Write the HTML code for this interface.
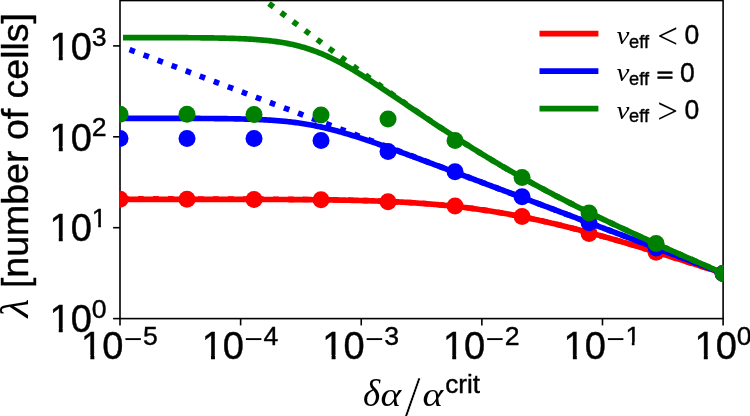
<!DOCTYPE html>
<html><head><meta charset="utf-8"><title>plot</title>
<style>
html,body{margin:0;padding:0;background:#fff;}
svg{display:block;}
text{font-family:"Liberation Sans",sans-serif;fill:#000;stroke:#000;stroke-width:0.4px;}
text.mi{font-family:"Liberation Serif","DejaVu Serif",serif;font-style:italic;stroke-width:0;}
text.sl{font-family:"Liberation Serif","DejaVu Serif",serif;stroke:#fff;stroke-width:0.7px;}
text.mn{stroke-width:0;}
text.eq{stroke-width:1.1px;}
text.ms{font-family:"Liberation Serif","DejaVu Serif",serif;stroke-width:0;}
</style></head><body>
<svg width="750" height="416" viewBox="0 0 750 416">
<rect x="0" y="0" width="750" height="416" fill="#fff"/>
<defs><clipPath id="c0"><path d="M76.10,314.40 H131.10 V365.40 H102.00 V355.00 H94.30 V365.40 H90.40 V355.00 H76.10 Z"/></clipPath><clipPath id="c1"><path d="M196.72,314.40 H251.72 V365.40 H222.62 V355.00 H214.92 V365.40 H211.02 V355.00 H196.72 Z"/></clipPath><clipPath id="c2"><path d="M317.34,314.40 H372.34 V365.40 H343.24 V355.00 H335.54 V365.40 H331.64 V355.00 H317.34 Z"/></clipPath><clipPath id="c3"><path d="M437.96,314.40 H492.96 V365.40 H463.86 V355.00 H456.16 V365.40 H452.26 V355.00 H437.96 Z"/></clipPath><clipPath id="c4"><path d="M558.58,314.40 H613.58 V365.40 H584.48 V355.00 H576.78 V365.40 H572.88 V355.00 H558.58 Z"/></clipPath><clipPath id="c5"><path d="M622.38,315.30 H645.38 V342.00 H634.48 V349.30 H631.83 V342.00 H622.38 Z"/></clipPath><clipPath id="c6"><path d="M689.55,314.40 H744.55 V365.40 H715.45 V355.00 H707.75 V365.40 H703.85 V355.00 H689.55 Z"/></clipPath><clipPath id="c7"><path d="M44.50,287.30 H99.50 V338.30 H70.40 V327.90 H62.70 V338.30 H58.80 V327.90 H44.50 Z"/></clipPath><clipPath id="c8"><path d="M44.50,196.40 H99.50 V247.40 H70.40 V237.00 H62.70 V247.40 H58.80 V237.00 H44.50 Z"/></clipPath><clipPath id="c9"><path d="M88.80,197.30 H111.80 V224.00 H100.90 V231.30 H98.25 V224.00 H88.80 Z"/></clipPath><clipPath id="c10"><path d="M44.50,105.50 H99.50 V156.50 H70.40 V146.10 H62.70 V156.50 H58.80 V146.10 H44.50 Z"/></clipPath><clipPath id="c11"><path d="M44.50,14.60 H99.50 V65.60 H70.40 V55.20 H62.70 V65.60 H58.80 V55.20 H44.50 Z"/></clipPath><clipPath id="ax"><rect x="119.3" y="0" width="604.30" height="319.3"/></clipPath></defs>
<g stroke="#000" stroke-width="1.6" fill="none">
<rect x="120.0" y="0.55" width="603.10" height="318.05"/>
<line x1="120.00" y1="318.60" x2="120.00" y2="325.40"/>
<line x1="240.62" y1="318.60" x2="240.62" y2="325.40"/>
<line x1="361.24" y1="318.60" x2="361.24" y2="325.40"/>
<line x1="481.86" y1="318.60" x2="481.86" y2="325.40"/>
<line x1="602.48" y1="318.60" x2="602.48" y2="325.40"/>
<line x1="723.10" y1="318.60" x2="723.10" y2="325.40"/>
<line x1="113.10" y1="318.60" x2="120.00" y2="318.60"/>
<line x1="113.10" y1="227.70" x2="120.00" y2="227.70"/>
<line x1="113.10" y1="136.80" x2="120.00" y2="136.80"/>
<line x1="113.10" y1="45.90" x2="120.00" y2="45.90"/>
</g>
<g clip-path="url(#ax)">
<path d="M123.00,198.92 L124.50,198.93 L126.01,198.93 L127.51,198.93 L129.02,198.93 L130.52,198.93 L132.02,198.93 L133.53,198.93 L135.03,198.93 L136.54,198.93 L138.04,198.93 L139.54,198.93 L141.05,198.93 L142.55,198.93 L144.06,198.93 L145.56,198.93 L147.06,198.93 L148.57,198.94 L150.07,198.94 L151.58,198.94 L153.08,198.94 L154.58,198.94 L156.09,198.94 L157.59,198.94 L159.10,198.94 L160.60,198.94 L162.10,198.94 L163.61,198.95 L165.11,198.95 L166.62,198.95 L168.12,198.95 L169.62,198.95 L171.13,198.95 L172.63,198.95 L174.14,198.95 L175.64,198.96 L177.14,198.96 L178.65,198.96 L180.15,198.96 L181.66,198.96 L183.16,198.96 L184.66,198.96 L186.17,198.97 L187.67,198.97 L189.18,198.97 L190.68,198.97 L192.18,198.97 L193.69,198.97 L195.19,198.98 L196.70,198.98 L198.20,198.98 L199.70,198.98 L201.21,198.99 L202.71,198.99 L204.22,198.99 L205.72,198.99 L207.22,198.99 L208.73,199.00 L210.23,199.00 L211.74,199.00 L213.24,199.01 L214.74,199.01 L216.25,199.01 L217.75,199.01 L219.26,199.02 L220.76,199.02 L222.26,199.02 L223.77,199.03 L225.27,199.03 L226.78,199.03 L228.28,199.04 L229.78,199.04 L231.29,199.05 L232.79,199.05 L234.30,199.05 L235.80,199.06 L237.30,199.06 L238.81,199.07 L240.31,199.07 L241.82,199.08 L243.32,199.08 L244.82,199.09 L246.33,199.09 L247.83,199.10 L249.34,199.10 L250.84,199.11 L252.34,199.11 L253.85,199.12 L255.35,199.13 L256.86,199.13 L258.36,199.14 L259.86,199.15 L261.37,199.15 L262.87,199.16 L264.38,199.17 L265.88,199.17 L267.38,199.18 L268.89,199.19 L270.39,199.20 L271.90,199.21 L273.40,199.21 L274.91,199.22 L276.41,199.23 L277.91,199.24 L279.42,199.25 L280.92,199.26 L282.43,199.27 L283.93,199.28 L285.43,199.29 L286.94,199.30 L288.44,199.32 L289.95,199.33 L291.45,199.34 L292.95,199.35 L294.46,199.36 L295.96,199.38 L297.47,199.39 L298.97,199.41 L300.47,199.42 L301.98,199.43 L303.48,199.45 L304.99,199.46 L306.49,199.48 L307.99,199.50 L309.50,199.51 L311.00,199.53 L312.51,199.55 L314.01,199.57 L315.51,199.59 L317.02,199.60 L318.52,199.62 L320.03,199.64 L321.53,199.67 L323.03,199.69 L324.54,199.71 L326.04,199.73 L327.55,199.75 L329.05,199.78 L330.55,199.80 L332.06,199.83 L333.56,199.85 L335.07,199.88 L336.57,199.91 L338.07,199.94 L339.58,199.97 L341.08,199.99 L342.59,200.03 L344.09,200.06 L345.59,200.09 L347.10,200.12 L348.60,200.15 L350.11,200.19 L351.61,200.23 L353.11,200.26 L354.62,200.30 L356.12,200.34 L357.63,200.38 L359.13,200.42 L360.63,200.46 L362.14,200.50 L363.64,200.54 L365.15,200.59 L366.65,200.64 L368.15,200.68 L369.66,200.73 L371.16,200.78 L372.67,200.83 L374.17,200.88 L375.67,200.94 L377.18,200.99 L378.68,201.05 L380.19,201.11 L381.69,201.16 L383.19,201.22 L384.70,201.29 L386.20,201.35 L387.71,201.41 L389.21,201.48 L390.71,201.55 L392.22,201.62 L393.72,201.69 L395.23,201.76 L396.73,201.84 L398.23,201.91 L399.74,201.99 L401.24,202.07 L402.75,202.15 L404.25,202.24 L405.75,202.32 L407.26,202.41 L408.76,202.50 L410.27,202.59 L411.77,202.69 L413.27,202.78 L414.78,202.88 L416.28,202.98 L417.79,203.08 L419.29,203.18 L420.79,203.29 L422.30,203.40 L423.80,203.51 L425.31,203.62 L426.81,203.74 L428.31,203.86 L429.82,203.98 L431.32,204.10 L432.83,204.23 L434.33,204.35 L435.83,204.48 L437.34,204.62 L438.84,204.75 L440.35,204.89 L441.85,205.03 L443.35,205.17 L444.86,205.32 L446.36,205.47 L447.87,205.62 L449.37,205.77 L450.87,205.93 L452.38,206.09 L453.88,206.25 L455.39,206.42 L456.89,206.59 L458.39,206.76 L459.90,206.93 L461.40,207.11 L462.91,207.29 L464.41,207.47 L465.91,207.65 L467.42,207.84 L468.92,208.03 L470.43,208.23 L471.93,208.43 L473.43,208.63 L474.94,208.83 L476.44,209.04 L477.95,209.25 L479.45,209.46 L480.95,209.67 L482.46,209.89 L483.96,210.11 L485.47,210.34 L486.97,210.57 L488.47,210.80 L489.98,211.03 L491.48,211.27 L492.99,211.51 L494.49,211.75 L495.99,212.00 L497.50,212.25 L499.00,212.50 L500.51,212.76 L502.01,213.01 L503.51,213.27 L505.02,213.54 L506.52,213.81 L508.03,214.08 L509.53,214.35 L511.03,214.63 L512.54,214.91 L514.04,215.19 L515.55,215.47 L517.05,215.76 L518.55,216.05 L520.06,216.35 L521.56,216.64 L523.07,216.94 L524.57,217.25 L526.07,217.55 L527.58,217.86 L529.08,218.17 L530.59,218.48 L532.09,218.80 L533.59,219.12 L535.10,219.44 L536.60,219.77 L538.11,220.09 L539.61,220.42 L541.11,220.76 L542.62,221.09 L544.12,221.43 L545.63,221.77 L547.13,222.11 L548.63,222.46 L550.14,222.80 L551.64,223.15 L553.15,223.51 L554.65,223.86 L556.15,224.22 L557.66,224.58 L559.16,224.94 L560.67,225.31 L562.17,225.67 L563.67,226.04 L565.18,226.42 L566.68,226.79 L568.19,227.17 L569.69,227.54 L571.19,227.92 L572.70,228.31 L574.20,228.69 L575.71,229.08 L577.21,229.47 L578.72,229.86 L580.22,230.25 L581.72,230.64 L583.23,231.04 L584.73,231.44 L586.24,231.84 L587.74,232.24 L589.24,232.65 L590.75,233.05 L592.25,233.46 L593.76,233.87 L595.26,234.28 L596.76,234.69 L598.27,235.11 L599.77,235.53 L601.28,235.94 L602.78,236.36 L604.28,236.78 L605.79,237.21 L607.29,237.63 L608.80,238.06 L610.30,238.49 L611.80,238.91 L613.31,239.34 L614.81,239.78 L616.32,240.21 L617.82,240.64 L619.32,241.08 L620.83,241.52 L622.33,241.96 L623.84,242.40 L625.34,242.84 L626.84,243.28 L628.35,243.72 L629.85,244.17 L631.36,244.61 L632.86,245.06 L634.36,245.51 L635.87,245.96 L637.37,246.41 L638.88,246.86 L640.38,247.31 L641.88,247.77 L643.39,248.22 L644.89,248.68 L646.40,249.14 L647.90,249.59 L649.40,250.05 L650.91,250.51 L652.41,250.97 L653.92,251.43 L655.42,251.89 L656.92,252.36 L658.43,252.82 L659.93,253.29 L661.44,253.75 L662.94,254.22 L664.44,254.68 L665.95,255.15 L667.45,255.62 L668.96,256.09 L670.46,256.56 L671.96,257.03 L673.47,257.50 L674.97,257.97 L676.48,258.44 L677.98,258.91 L679.48,259.39 L680.99,259.86 L682.49,260.33 L684.00,260.81 L685.50,261.28 L687.00,261.76 L688.51,262.23 L690.01,262.71 L691.52,263.19 L693.02,263.66 L694.52,264.14 L696.03,264.62 L697.53,265.10 L699.04,265.57 L700.54,266.05 L702.04,266.53 L703.55,267.01 L705.05,267.49 L706.56,267.97 L708.06,268.45 L709.56,268.93 L711.07,269.41 L712.57,269.89 L714.08,270.37 L715.58,270.85 L717.08,271.33 L718.59,271.81 L720.09,272.29 L721.60,272.77 L723.10,273.25" fill="none" stroke="#ff0000" stroke-width="5.66" stroke-dasharray="5.66 9.34" stroke-dashoffset="0.00"/>
<path d="M123.00,199.40 L124.50,199.40 L126.01,199.40 L127.51,199.40 L129.02,199.40 L130.52,199.40 L132.02,199.40 L133.53,199.40 L135.03,199.40 L136.54,199.40 L138.04,199.40 L139.54,199.40 L141.05,199.40 L142.55,199.40 L144.06,199.40 L145.56,199.40 L147.06,199.40 L148.57,199.40 L150.07,199.40 L151.58,199.40 L153.08,199.40 L154.58,199.40 L156.09,199.40 L157.59,199.40 L159.10,199.40 L160.60,199.40 L162.10,199.40 L163.61,199.40 L165.11,199.40 L166.62,199.40 L168.12,199.40 L169.62,199.40 L171.13,199.40 L172.63,199.40 L174.14,199.40 L175.64,199.40 L177.14,199.40 L178.65,199.40 L180.15,199.40 L181.66,199.40 L183.16,199.40 L184.66,199.40 L186.17,199.40 L187.67,199.40 L189.18,199.40 L190.68,199.40 L192.18,199.40 L193.69,199.40 L195.19,199.40 L196.70,199.40 L198.20,199.40 L199.70,199.40 L201.21,199.40 L202.71,199.40 L204.22,199.40 L205.72,199.40 L207.22,199.41 L208.73,199.41 L210.23,199.41 L211.74,199.41 L213.24,199.41 L214.74,199.41 L216.25,199.41 L217.75,199.41 L219.26,199.41 L220.76,199.41 L222.26,199.41 L223.77,199.41 L225.27,199.41 L226.78,199.41 L228.28,199.41 L229.78,199.42 L231.29,199.42 L232.79,199.42 L234.30,199.42 L235.80,199.42 L237.30,199.42 L238.81,199.42 L240.31,199.42 L241.82,199.42 L243.32,199.43 L244.82,199.43 L246.33,199.43 L247.83,199.43 L249.34,199.43 L250.84,199.44 L252.34,199.44 L253.85,199.44 L255.35,199.44 L256.86,199.44 L258.36,199.45 L259.86,199.45 L261.37,199.45 L262.87,199.46 L264.38,199.46 L265.88,199.46 L267.38,199.47 L268.89,199.47 L270.39,199.47 L271.90,199.48 L273.40,199.48 L274.91,199.49 L276.41,199.49 L277.91,199.50 L279.42,199.50 L280.92,199.51 L282.43,199.51 L283.93,199.52 L285.43,199.53 L286.94,199.53 L288.44,199.54 L289.95,199.55 L291.45,199.56 L292.95,199.56 L294.46,199.57 L295.96,199.58 L297.47,199.59 L298.97,199.60 L300.47,199.61 L301.98,199.62 L303.48,199.63 L304.99,199.64 L306.49,199.66 L307.99,199.67 L309.50,199.68 L311.00,199.69 L312.51,199.71 L314.01,199.72 L315.51,199.74 L317.02,199.75 L318.52,199.77 L320.03,199.79 L321.53,199.80 L323.03,199.82 L324.54,199.84 L326.04,199.86 L327.55,199.88 L329.05,199.90 L330.55,199.92 L332.06,199.94 L333.56,199.97 L335.07,199.99 L336.57,200.01 L338.07,200.04 L339.58,200.06 L341.08,200.09 L342.59,200.12 L344.09,200.15 L345.59,200.18 L347.10,200.21 L348.60,200.24 L350.11,200.27 L351.61,200.30 L353.11,200.34 L354.62,200.37 L356.12,200.41 L357.63,200.45 L359.13,200.49 L360.63,200.52 L362.14,200.57 L363.64,200.61 L365.15,200.65 L366.65,200.69 L368.15,200.74 L369.66,200.79 L371.16,200.83 L372.67,200.88 L374.17,200.93 L375.67,200.98 L377.18,201.04 L378.68,201.09 L380.19,201.15 L381.69,201.21 L383.19,201.27 L384.70,201.33 L386.20,201.39 L387.71,201.45 L389.21,201.52 L390.71,201.58 L392.22,201.65 L393.72,201.72 L395.23,201.79 L396.73,201.87 L398.23,201.94 L399.74,202.02 L401.24,202.10 L402.75,202.18 L404.25,202.26 L405.75,202.35 L407.26,202.43 L408.76,202.52 L410.27,202.61 L411.77,202.71 L413.27,202.80 L414.78,202.90 L416.28,203.00 L417.79,203.10 L419.29,203.20 L420.79,203.31 L422.30,203.42 L423.80,203.53 L425.31,203.64 L426.81,203.75 L428.31,203.87 L429.82,203.99 L431.32,204.11 L432.83,204.24 L434.33,204.37 L435.83,204.50 L437.34,204.63 L438.84,204.76 L440.35,204.90 L441.85,205.04 L443.35,205.18 L444.86,205.33 L446.36,205.48 L447.87,205.63 L449.37,205.78 L450.87,205.94 L452.38,206.10 L453.88,206.26 L455.39,206.42 L456.89,206.59 L458.39,206.76 L459.90,206.94 L461.40,207.11 L462.91,207.29 L464.41,207.47 L465.91,207.66 L467.42,207.85 L468.92,208.04 L470.43,208.23 L471.93,208.43 L473.43,208.63 L474.94,208.83 L476.44,209.04 L477.95,209.25 L479.45,209.46 L480.95,209.68 L482.46,209.90 L483.96,210.12 L485.47,210.34 L486.97,210.57 L488.47,210.80 L489.98,211.03 L491.48,211.27 L492.99,211.51 L494.49,211.75 L495.99,212.00 L497.50,212.25 L499.00,212.50 L500.51,212.76 L502.01,213.02 L503.51,213.28 L505.02,213.54 L506.52,213.81 L508.03,214.08 L509.53,214.35 L511.03,214.63 L512.54,214.91 L514.04,215.19 L515.55,215.47 L517.05,215.76 L518.55,216.05 L520.06,216.35 L521.56,216.64 L523.07,216.94 L524.57,217.25 L526.07,217.55 L527.58,217.86 L529.08,218.17 L530.59,218.48 L532.09,218.80 L533.59,219.12 L535.10,219.44 L536.60,219.77 L538.11,220.09 L539.61,220.42 L541.11,220.76 L542.62,221.09 L544.12,221.43 L545.63,221.77 L547.13,222.11 L548.63,222.46 L550.14,222.81 L551.64,223.16 L553.15,223.51 L554.65,223.86 L556.15,224.22 L557.66,224.58 L559.16,224.94 L560.67,225.31 L562.17,225.68 L563.67,226.04 L565.18,226.42 L566.68,226.79 L568.19,227.17 L569.69,227.54 L571.19,227.92 L572.70,228.31 L574.20,228.69 L575.71,229.08 L577.21,229.47 L578.72,229.86 L580.22,230.25 L581.72,230.64 L583.23,231.04 L584.73,231.44 L586.24,231.84 L587.74,232.24 L589.24,232.65 L590.75,233.05 L592.25,233.46 L593.76,233.87 L595.26,234.28 L596.76,234.69 L598.27,235.11 L599.77,235.53 L601.28,235.94 L602.78,236.36 L604.28,236.78 L605.79,237.21 L607.29,237.63 L608.80,238.06 L610.30,238.49 L611.80,238.91 L613.31,239.34 L614.81,239.78 L616.32,240.21 L617.82,240.64 L619.32,241.08 L620.83,241.52 L622.33,241.96 L623.84,242.40 L625.34,242.84 L626.84,243.28 L628.35,243.72 L629.85,244.17 L631.36,244.61 L632.86,245.06 L634.36,245.51 L635.87,245.96 L637.37,246.41 L638.88,246.86 L640.38,247.31 L641.88,247.77 L643.39,248.22 L644.89,248.68 L646.40,249.14 L647.90,249.59 L649.40,250.05 L650.91,250.51 L652.41,250.97 L653.92,251.43 L655.42,251.89 L656.92,252.36 L658.43,252.82 L659.93,253.29 L661.44,253.75 L662.94,254.22 L664.44,254.68 L665.95,255.15 L667.45,255.62 L668.96,256.09 L670.46,256.56 L671.96,257.03 L673.47,257.50 L674.97,257.97 L676.48,258.44 L677.98,258.91 L679.48,259.39 L680.99,259.86 L682.49,260.33 L684.00,260.81 L685.50,261.28 L687.00,261.76 L688.51,262.23 L690.01,262.71 L691.52,263.19 L693.02,263.66 L694.52,264.14 L696.03,264.62 L697.53,265.10 L699.04,265.57 L700.54,266.05 L702.04,266.53 L703.55,267.01 L705.05,267.49 L706.56,267.97 L708.06,268.45 L709.56,268.93 L711.07,269.41 L712.57,269.89 L714.08,270.37 L715.58,270.85 L717.08,271.33 L718.59,271.81 L720.09,272.29 L721.60,272.77 L723.10,273.25" fill="none" stroke="#ff0000" stroke-width="5.66" stroke-linejoin="round"/>
<circle cx="120.00" cy="199.30" r="8.50" fill="#ff0000"/>
<circle cx="187.01" cy="199.30" r="8.50" fill="#ff0000"/>
<circle cx="254.02" cy="199.40" r="8.50" fill="#ff0000"/>
<circle cx="321.03" cy="199.80" r="8.50" fill="#ff0000"/>
<circle cx="388.04" cy="201.70" r="8.50" fill="#ff0000"/>
<circle cx="455.06" cy="206.00" r="8.50" fill="#ff0000"/>
<circle cx="522.07" cy="216.60" r="8.50" fill="#ff0000"/>
<circle cx="589.08" cy="233.50" r="8.50" fill="#ff0000"/>
<circle cx="656.09" cy="252.20" r="8.50" fill="#ff0000"/>
<circle cx="723.10" cy="273.40" r="8.50" fill="#ff0000"/>
<path d="M123.00,47.13 L124.50,47.70 L126.01,48.26 L127.51,48.83 L129.02,49.40 L130.52,49.96 L132.02,50.53 L133.53,51.10 L135.03,51.66 L136.54,52.23 L138.04,52.80 L139.54,53.36 L141.05,53.93 L142.55,54.50 L144.06,55.06 L145.56,55.63 L147.06,56.20 L148.57,56.76 L150.07,57.33 L151.58,57.90 L153.08,58.46 L154.58,59.03 L156.09,59.60 L157.59,60.16 L159.10,60.73 L160.60,61.30 L162.10,61.87 L163.61,62.43 L165.11,63.00 L166.62,63.57 L168.12,64.13 L169.62,64.70 L171.13,65.27 L172.63,65.83 L174.14,66.40 L175.64,66.97 L177.14,67.53 L178.65,68.10 L180.15,68.67 L181.66,69.23 L183.16,69.80 L184.66,70.37 L186.17,70.93 L187.67,71.50 L189.18,72.07 L190.68,72.63 L192.18,73.20 L193.69,73.77 L195.19,74.33 L196.70,74.90 L198.20,75.47 L199.70,76.03 L201.21,76.60 L202.71,77.17 L204.22,77.73 L205.72,78.30 L207.22,78.87 L208.73,79.43 L210.23,80.00 L211.74,80.57 L213.24,81.13 L214.74,81.70 L216.25,82.27 L217.75,82.83 L219.26,83.40 L220.76,83.97 L222.26,84.53 L223.77,85.10 L225.27,85.67 L226.78,86.23 L228.28,86.80 L229.78,87.37 L231.29,87.93 L232.79,88.50 L234.30,89.07 L235.80,89.63 L237.30,90.20 L238.81,90.77 L240.31,91.33 L241.82,91.90 L243.32,92.47 L244.82,93.03 L246.33,93.60 L247.83,94.17 L249.34,94.73 L250.84,95.30 L252.34,95.87 L253.85,96.43 L255.35,97.00 L256.86,97.57 L258.36,98.13 L259.86,98.70 L261.37,99.27 L262.87,99.83 L264.38,100.40 L265.88,100.97 L267.38,101.54 L268.89,102.10 L270.39,102.67 L271.90,103.24 L273.40,103.80 L274.91,104.37 L276.41,104.94 L277.91,105.50 L279.42,106.07 L280.92,106.64 L282.43,107.20 L283.93,107.77 L285.43,108.34 L286.94,108.90 L288.44,109.47 L289.95,110.04 L291.45,110.60 L292.95,111.17 L294.46,111.74 L295.96,112.30 L297.47,112.87 L298.97,113.44 L300.47,114.00 L301.98,114.57 L303.48,115.14 L304.99,115.70 L306.49,116.27 L307.99,116.84 L309.50,117.40 L311.00,117.97 L312.51,118.54 L314.01,119.10 L315.51,119.67 L317.02,120.24 L318.52,120.80 L320.03,121.37 L321.53,121.94 L323.03,122.50 L324.54,123.07 L326.04,123.64 L327.55,124.20 L329.05,124.77 L330.55,125.34 L332.06,125.90 L333.56,126.47 L335.07,127.04 L336.57,127.60 L338.07,128.17 L339.58,128.74 L341.08,129.30 L342.59,129.87 L344.09,130.44 L345.59,131.00 L347.10,131.57 L348.60,132.14 L350.11,132.70 L351.61,133.27 L353.11,133.84 L354.62,134.40 L356.12,134.97 L357.63,135.54 L359.13,136.10 L360.63,136.67 L362.14,137.24 L363.64,137.80 L365.15,138.37 L366.65,138.94 L368.15,139.51 L369.66,140.07 L371.16,140.64 L372.67,141.21 L374.17,141.77 L375.67,142.34 L377.18,142.91 L378.68,143.47 L380.19,144.04 L381.69,144.61 L383.19,145.17 L384.70,145.74 L386.20,146.31 L387.71,146.87 L389.21,147.44 L390.71,148.01 L392.22,148.57 L393.72,149.14 L395.23,149.71 L396.73,150.27 L398.23,150.84 L399.74,151.41 L401.24,151.97 L402.75,152.54 L404.25,153.11 L405.75,153.67 L407.26,154.24 L408.76,154.81 L410.27,155.37 L411.77,155.94 L413.27,156.51 L414.78,157.07 L416.28,157.64 L417.79,158.21 L419.29,158.77 L420.79,159.34 L422.30,159.91 L423.80,160.47 L425.31,161.04 L426.81,161.61 L428.31,162.17 L429.82,162.74 L431.32,163.31 L432.83,163.87 L434.33,164.44 L435.83,165.01 L437.34,165.57 L438.84,166.14 L440.35,166.71 L441.85,167.27 L443.35,167.84 L444.86,168.41 L446.36,168.97 L447.87,169.54 L449.37,170.11 L450.87,170.67 L452.38,171.24 L453.88,171.81 L455.39,172.37 L456.89,172.94 L458.39,173.51 L459.90,174.07 L461.40,174.64 L462.91,175.21 L464.41,175.77 L465.91,176.34 L467.42,176.91 L468.92,177.48 L470.43,178.04 L471.93,178.61 L473.43,179.18 L474.94,179.74 L476.44,180.31 L477.95,180.88 L479.45,181.44 L480.95,182.01 L482.46,182.58 L483.96,183.14 L485.47,183.71 L486.97,184.28 L488.47,184.84 L489.98,185.41 L491.48,185.98 L492.99,186.54 L494.49,187.11 L495.99,187.68 L497.50,188.24 L499.00,188.81 L500.51,189.38 L502.01,189.94 L503.51,190.51 L505.02,191.08 L506.52,191.64 L508.03,192.21 L509.53,192.78 L511.03,193.34 L512.54,193.91 L514.04,194.48 L515.55,195.04 L517.05,195.61 L518.55,196.18 L520.06,196.74 L521.56,197.31 L523.07,197.88 L524.57,198.44 L526.07,199.01 L527.58,199.58 L529.08,200.14 L530.59,200.71 L532.09,201.28 L533.59,201.84 L535.10,202.41 L536.60,202.98 L538.11,203.54 L539.61,204.11 L541.11,204.68 L542.62,205.24 L544.12,205.81 L545.63,206.38 L547.13,206.94 L548.63,207.51 L550.14,208.08 L551.64,208.64 L553.15,209.21 L554.65,209.78 L556.15,210.34 L557.66,210.91 L559.16,211.48 L560.67,212.04 L562.17,212.61 L563.67,213.18 L565.18,213.74 L566.68,214.31 L568.19,214.88 L569.69,215.44 L571.19,216.01 L572.70,216.58 L574.20,217.15 L575.71,217.71 L577.21,218.28 L578.72,218.85 L580.22,219.41 L581.72,219.98 L583.23,220.55 L584.73,221.11 L586.24,221.68 L587.74,222.25 L589.24,222.81 L590.75,223.38 L592.25,223.95 L593.76,224.51 L595.26,225.08 L596.76,225.65 L598.27,226.21 L599.77,226.78 L601.28,227.35 L602.78,227.91 L604.28,228.48 L605.79,229.05 L607.29,229.61 L608.80,230.18 L610.30,230.75 L611.80,231.31 L613.31,231.88 L614.81,232.45 L616.32,233.01 L617.82,233.58 L619.32,234.15 L620.83,234.71 L622.33,235.28 L623.84,235.85 L625.34,236.41 L626.84,236.98 L628.35,237.55 L629.85,238.11 L631.36,238.68 L632.86,239.25 L634.36,239.81 L635.87,240.38 L637.37,240.95 L638.88,241.51 L640.38,242.08 L641.88,242.65 L643.39,243.21 L644.89,243.78 L646.40,244.35 L647.90,244.91 L649.40,245.48 L650.91,246.05 L652.41,246.61 L653.92,247.18 L655.42,247.75 L656.92,248.31 L658.43,248.88 L659.93,249.45 L661.44,250.01 L662.94,250.58 L664.44,251.15 L665.95,251.71 L667.45,252.28 L668.96,252.85 L670.46,253.41 L671.96,253.98 L673.47,254.55 L674.97,255.12 L676.48,255.68 L677.98,256.25 L679.48,256.82 L680.99,257.38 L682.49,257.95 L684.00,258.52 L685.50,259.08 L687.00,259.65 L688.51,260.22 L690.01,260.78 L691.52,261.35 L693.02,261.92 L694.52,262.48 L696.03,263.05 L697.53,263.62 L699.04,264.18 L700.54,264.75 L702.04,265.32 L703.55,265.88 L705.05,266.45 L706.56,267.02 L708.06,267.58 L709.56,268.15 L711.07,268.72 L712.57,269.28 L714.08,269.85 L715.58,270.42 L717.08,270.98 L718.59,271.55 L720.09,272.12 L721.60,272.68 L723.10,273.25" fill="none" stroke="#0000ff" stroke-width="5.66" stroke-dasharray="5.66 9.34" stroke-dashoffset="8.00"/>
<path d="M123.00,118.32 L124.50,118.32 L126.01,118.32 L127.51,118.32 L129.02,118.32 L130.52,118.32 L132.02,118.32 L133.53,118.32 L135.03,118.33 L136.54,118.33 L138.04,118.33 L139.54,118.33 L141.05,118.33 L142.55,118.33 L144.06,118.33 L145.56,118.33 L147.06,118.33 L148.57,118.33 L150.07,118.33 L151.58,118.34 L153.08,118.34 L154.58,118.34 L156.09,118.34 L157.59,118.34 L159.10,118.34 L160.60,118.34 L162.10,118.35 L163.61,118.35 L165.11,118.35 L166.62,118.35 L168.12,118.35 L169.62,118.36 L171.13,118.36 L172.63,118.36 L174.14,118.37 L175.64,118.37 L177.14,118.37 L178.65,118.37 L180.15,118.38 L181.66,118.38 L183.16,118.39 L184.66,118.39 L186.17,118.39 L187.67,118.40 L189.18,118.40 L190.68,118.41 L192.18,118.42 L193.69,118.42 L195.19,118.43 L196.70,118.43 L198.20,118.44 L199.70,118.45 L201.21,118.46 L202.71,118.47 L204.22,118.47 L205.72,118.48 L207.22,118.49 L208.73,118.50 L210.23,118.52 L211.74,118.53 L213.24,118.54 L214.74,118.55 L216.25,118.57 L217.75,118.58 L219.26,118.60 L220.76,118.61 L222.26,118.63 L223.77,118.65 L225.27,118.67 L226.78,118.69 L228.28,118.71 L229.78,118.73 L231.29,118.76 L232.79,118.78 L234.30,118.81 L235.80,118.84 L237.30,118.87 L238.81,118.90 L240.31,118.94 L241.82,118.97 L243.32,119.01 L244.82,119.05 L246.33,119.09 L247.83,119.13 L249.34,119.18 L250.84,119.23 L252.34,119.28 L253.85,119.33 L255.35,119.39 L256.86,119.45 L258.36,119.52 L259.86,119.58 L261.37,119.65 L262.87,119.73 L264.38,119.80 L265.88,119.88 L267.38,119.97 L268.89,120.06 L270.39,120.15 L271.90,120.25 L273.40,120.36 L274.91,120.46 L276.41,120.58 L277.91,120.70 L279.42,120.82 L280.92,120.95 L282.43,121.09 L283.93,121.23 L285.43,121.38 L286.94,121.53 L288.44,121.69 L289.95,121.86 L291.45,122.03 L292.95,122.22 L294.46,122.40 L295.96,122.60 L297.47,122.80 L298.97,123.01 L300.47,123.23 L301.98,123.46 L303.48,123.69 L304.99,123.94 L306.49,124.19 L307.99,124.44 L309.50,124.71 L311.00,124.98 L312.51,125.27 L314.01,125.56 L315.51,125.86 L317.02,126.16 L318.52,126.48 L320.03,126.80 L321.53,127.13 L323.03,127.47 L324.54,127.82 L326.04,128.17 L327.55,128.53 L329.05,128.90 L330.55,129.28 L332.06,129.66 L333.56,130.05 L335.07,130.45 L336.57,130.85 L338.07,131.27 L339.58,131.68 L341.08,132.11 L342.59,132.54 L344.09,132.97 L345.59,133.41 L347.10,133.86 L348.60,134.31 L350.11,134.77 L351.61,135.23 L353.11,135.70 L354.62,136.17 L356.12,136.65 L357.63,137.13 L359.13,137.61 L360.63,138.10 L362.14,138.59 L363.64,139.09 L365.15,139.59 L366.65,140.09 L368.15,140.60 L369.66,141.10 L371.16,141.62 L372.67,142.13 L374.17,142.65 L375.67,143.17 L377.18,143.69 L378.68,144.21 L380.19,144.74 L381.69,145.27 L383.19,145.80 L384.70,146.33 L386.20,146.87 L387.71,147.40 L389.21,147.94 L390.71,148.48 L392.22,149.02 L393.72,149.56 L395.23,150.11 L396.73,150.65 L398.23,151.20 L399.74,151.75 L401.24,152.29 L402.75,152.84 L404.25,153.39 L405.75,153.94 L407.26,154.50 L408.76,155.05 L410.27,155.60 L411.77,156.16 L413.27,156.71 L414.78,157.27 L416.28,157.82 L417.79,158.38 L419.29,158.94 L420.79,159.49 L422.30,160.05 L423.80,160.61 L425.31,161.17 L426.81,161.73 L428.31,162.29 L429.82,162.85 L431.32,163.41 L432.83,163.97 L434.33,164.53 L435.83,165.09 L437.34,165.66 L438.84,166.22 L440.35,166.78 L441.85,167.34 L443.35,167.91 L444.86,168.47 L446.36,169.03 L447.87,169.60 L449.37,170.16 L450.87,170.72 L452.38,171.29 L453.88,171.85 L455.39,172.42 L456.89,172.98 L458.39,173.54 L459.90,174.11 L461.40,174.67 L462.91,175.24 L464.41,175.80 L465.91,176.37 L467.42,176.93 L468.92,177.50 L470.43,178.06 L471.93,178.63 L473.43,179.20 L474.94,179.76 L476.44,180.33 L477.95,180.89 L479.45,181.46 L480.95,182.02 L482.46,182.59 L483.96,183.16 L485.47,183.72 L486.97,184.29 L488.47,184.85 L489.98,185.42 L491.48,185.99 L492.99,186.55 L494.49,187.12 L495.99,187.68 L497.50,188.25 L499.00,188.82 L500.51,189.38 L502.01,189.95 L503.51,190.52 L505.02,191.08 L506.52,191.65 L508.03,192.22 L509.53,192.78 L511.03,193.35 L512.54,193.91 L514.04,194.48 L515.55,195.05 L517.05,195.61 L518.55,196.18 L520.06,196.75 L521.56,197.31 L523.07,197.88 L524.57,198.45 L526.07,199.01 L527.58,199.58 L529.08,200.15 L530.59,200.71 L532.09,201.28 L533.59,201.85 L535.10,202.41 L536.60,202.98 L538.11,203.55 L539.61,204.11 L541.11,204.68 L542.62,205.25 L544.12,205.81 L545.63,206.38 L547.13,206.95 L548.63,207.51 L550.14,208.08 L551.64,208.65 L553.15,209.21 L554.65,209.78 L556.15,210.35 L557.66,210.91 L559.16,211.48 L560.67,212.05 L562.17,212.61 L563.67,213.18 L565.18,213.75 L566.68,214.31 L568.19,214.88 L569.69,215.45 L571.19,216.01 L572.70,216.58 L574.20,217.15 L575.71,217.71 L577.21,218.28 L578.72,218.85 L580.22,219.41 L581.72,219.98 L583.23,220.55 L584.73,221.11 L586.24,221.68 L587.74,222.25 L589.24,222.81 L590.75,223.38 L592.25,223.95 L593.76,224.51 L595.26,225.08 L596.76,225.65 L598.27,226.21 L599.77,226.78 L601.28,227.35 L602.78,227.91 L604.28,228.48 L605.79,229.05 L607.29,229.61 L608.80,230.18 L610.30,230.75 L611.80,231.31 L613.31,231.88 L614.81,232.45 L616.32,233.01 L617.82,233.58 L619.32,234.15 L620.83,234.71 L622.33,235.28 L623.84,235.85 L625.34,236.41 L626.84,236.98 L628.35,237.55 L629.85,238.11 L631.36,238.68 L632.86,239.25 L634.36,239.81 L635.87,240.38 L637.37,240.95 L638.88,241.51 L640.38,242.08 L641.88,242.65 L643.39,243.21 L644.89,243.78 L646.40,244.35 L647.90,244.91 L649.40,245.48 L650.91,246.05 L652.41,246.61 L653.92,247.18 L655.42,247.75 L656.92,248.31 L658.43,248.88 L659.93,249.45 L661.44,250.01 L662.94,250.58 L664.44,251.15 L665.95,251.71 L667.45,252.28 L668.96,252.85 L670.46,253.41 L671.96,253.98 L673.47,254.55 L674.97,255.12 L676.48,255.68 L677.98,256.25 L679.48,256.82 L680.99,257.38 L682.49,257.95 L684.00,258.52 L685.50,259.08 L687.00,259.65 L688.51,260.22 L690.01,260.78 L691.52,261.35 L693.02,261.92 L694.52,262.48 L696.03,263.05 L697.53,263.62 L699.04,264.18 L700.54,264.75 L702.04,265.32 L703.55,265.88 L705.05,266.45 L706.56,267.02 L708.06,267.58 L709.56,268.15 L711.07,268.72 L712.57,269.28 L714.08,269.85 L715.58,270.42 L717.08,270.98 L718.59,271.55 L720.09,272.12 L721.60,272.68 L723.10,273.25" fill="none" stroke="#0000ff" stroke-width="5.66" stroke-linejoin="round"/>
<circle cx="120.00" cy="138.40" r="8.50" fill="#0000ff"/>
<circle cx="187.01" cy="138.40" r="8.50" fill="#0000ff"/>
<circle cx="254.02" cy="138.60" r="8.50" fill="#0000ff"/>
<circle cx="321.03" cy="140.60" r="8.50" fill="#0000ff"/>
<circle cx="388.04" cy="151.50" r="8.50" fill="#0000ff"/>
<circle cx="455.06" cy="171.80" r="8.50" fill="#0000ff"/>
<circle cx="522.07" cy="196.70" r="8.50" fill="#0000ff"/>
<circle cx="589.08" cy="222.70" r="8.50" fill="#0000ff"/>
<circle cx="656.09" cy="247.90" r="8.50" fill="#0000ff"/>
<circle cx="723.10" cy="273.40" r="8.50" fill="#0000ff"/>
<path d="M123.00,-106.19 L124.50,-105.06 L126.01,-103.93 L127.51,-102.79 L129.02,-101.66 L130.52,-100.53 L132.02,-99.39 L133.53,-98.26 L135.03,-97.13 L136.54,-96.00 L138.04,-94.86 L139.54,-93.73 L141.05,-92.60 L142.55,-91.46 L144.06,-90.33 L145.56,-89.20 L147.06,-88.07 L148.57,-86.93 L150.07,-85.80 L151.58,-84.67 L153.08,-83.54 L154.58,-82.40 L156.09,-81.27 L157.59,-80.14 L159.10,-79.01 L160.60,-77.87 L162.10,-76.74 L163.61,-75.61 L165.11,-74.48 L166.62,-73.34 L168.12,-72.21 L169.62,-71.08 L171.13,-69.95 L172.63,-68.81 L174.14,-67.68 L175.64,-66.55 L177.14,-65.42 L178.65,-64.29 L180.15,-63.15 L181.66,-62.02 L183.16,-60.89 L184.66,-59.76 L186.17,-58.63 L187.67,-57.49 L189.18,-56.36 L190.68,-55.23 L192.18,-54.10 L193.69,-52.97 L195.19,-51.84 L196.70,-50.70 L198.20,-49.57 L199.70,-48.44 L201.21,-47.31 L202.71,-46.18 L204.22,-45.05 L205.72,-43.92 L207.22,-42.78 L208.73,-41.65 L210.23,-40.52 L211.74,-39.39 L213.24,-38.26 L214.74,-37.13 L216.25,-36.00 L217.75,-34.87 L219.26,-33.74 L220.76,-32.61 L222.26,-31.48 L223.77,-30.35 L225.27,-29.22 L226.78,-28.09 L228.28,-26.96 L229.78,-25.83 L231.29,-24.70 L232.79,-23.57 L234.30,-22.44 L235.80,-21.31 L237.30,-20.18 L238.81,-19.05 L240.31,-17.92 L241.82,-16.79 L243.32,-15.66 L244.82,-14.53 L246.33,-13.40 L247.83,-12.28 L249.34,-11.15 L250.84,-10.02 L252.34,-8.89 L253.85,-7.76 L255.35,-6.64 L256.86,-5.51 L258.36,-4.38 L259.86,-3.25 L261.37,-2.13 L262.87,-1.00 L264.38,0.13 L265.88,1.25 L267.38,2.38 L268.89,3.51 L270.39,4.63 L271.90,5.76 L273.40,6.88 L274.91,8.01 L276.41,9.13 L277.91,10.26 L279.42,11.38 L280.92,12.51 L282.43,13.63 L283.93,14.75 L285.43,15.88 L286.94,17.00 L288.44,18.12 L289.95,19.25 L291.45,20.37 L292.95,21.49 L294.46,22.61 L295.96,23.73 L297.47,24.85 L298.97,25.98 L300.47,27.10 L301.98,28.22 L303.48,29.33 L304.99,30.45 L306.49,31.57 L307.99,32.69 L309.50,33.81 L311.00,34.93 L312.51,36.04 L314.01,37.16 L315.51,38.28 L317.02,39.39 L318.52,40.51 L320.03,41.62 L321.53,42.74 L323.03,43.85 L324.54,44.96 L326.04,46.07 L327.55,47.19 L329.05,48.30 L330.55,49.41 L332.06,50.52 L333.56,51.63 L335.07,52.74 L336.57,53.84 L338.07,54.95 L339.58,56.06 L341.08,57.16 L342.59,58.27 L344.09,59.37 L345.59,60.48 L347.10,61.58 L348.60,62.68 L350.11,63.78 L351.61,64.88 L353.11,65.98 L354.62,67.08 L356.12,68.18 L357.63,69.28 L359.13,70.37 L360.63,71.47 L362.14,72.56 L363.64,73.65 L365.15,74.75 L366.65,75.84 L368.15,76.93 L369.66,78.01 L371.16,79.10 L372.67,80.19 L374.17,81.27 L375.67,82.36 L377.18,83.44 L378.68,84.52 L380.19,85.60 L381.69,86.68 L383.19,87.75 L384.70,88.83 L386.20,89.90 L387.71,90.98 L389.21,92.05 L390.71,93.12 L392.22,94.19 L393.72,95.25 L395.23,96.32 L396.73,97.38 L398.23,98.44 L399.74,99.50 L401.24,100.56 L402.75,101.62 L404.25,102.67 L405.75,103.73 L407.26,104.78 L408.76,105.83 L410.27,106.87 L411.77,107.92 L413.27,108.96 L414.78,110.00 L416.28,111.04 L417.79,112.08 L419.29,113.12 L420.79,114.15 L422.30,115.18 L423.80,116.21 L425.31,117.24 L426.81,118.26 L428.31,119.28 L429.82,120.30 L431.32,121.32 L432.83,122.33 L434.33,123.35 L435.83,124.36 L437.34,125.36 L438.84,126.37 L440.35,127.37 L441.85,128.37 L443.35,129.37 L444.86,130.36 L446.36,131.36 L447.87,132.35 L449.37,133.33 L450.87,134.32 L452.38,135.30 L453.88,136.28 L455.39,137.25 L456.89,138.23 L458.39,139.20 L459.90,140.17 L461.40,141.13 L462.91,142.09 L464.41,143.05 L465.91,144.01 L467.42,144.96 L468.92,145.91 L470.43,146.86 L471.93,147.80 L473.43,148.74 L474.94,149.68 L476.44,150.62 L477.95,151.55 L479.45,152.48 L480.95,153.41 L482.46,154.33 L483.96,155.25 L485.47,156.17 L486.97,157.08 L488.47,157.99 L489.98,158.90 L491.48,159.81 L492.99,160.71 L494.49,161.61 L495.99,162.50 L497.50,163.40 L499.00,164.29 L500.51,165.17 L502.01,166.06 L503.51,166.94 L505.02,167.81 L506.52,168.69 L508.03,169.56 L509.53,170.43 L511.03,171.30 L512.54,172.16 L514.04,173.02 L515.55,173.87 L517.05,174.73 L518.55,175.58 L520.06,176.43 L521.56,177.27 L523.07,178.11 L524.57,178.95 L526.07,179.79 L527.58,180.62 L529.08,181.45 L530.59,182.28 L532.09,183.11 L533.59,183.93 L535.10,184.75 L536.60,185.57 L538.11,186.38 L539.61,187.19 L541.11,188.00 L542.62,188.81 L544.12,189.61 L545.63,190.41 L547.13,191.21 L548.63,192.00 L550.14,192.80 L551.64,193.59 L553.15,194.37 L554.65,195.16 L556.15,195.94 L557.66,196.72 L559.16,197.50 L560.67,198.28 L562.17,199.05 L563.67,199.82 L565.18,200.59 L566.68,201.36 L568.19,202.12 L569.69,202.88 L571.19,203.64 L572.70,204.40 L574.20,205.16 L575.71,205.91 L577.21,206.66 L578.72,207.41 L580.22,208.16 L581.72,208.90 L583.23,209.65 L584.73,210.39 L586.24,211.13 L587.74,211.86 L589.24,212.60 L590.75,213.33 L592.25,214.06 L593.76,214.79 L595.26,215.52 L596.76,216.25 L598.27,216.97 L599.77,217.69 L601.28,218.41 L602.78,219.13 L604.28,219.85 L605.79,220.57 L607.29,221.28 L608.80,221.99 L610.30,222.71 L611.80,223.42 L613.31,224.12 L614.81,224.83 L616.32,225.54 L617.82,226.24 L619.32,226.94 L620.83,227.64 L622.33,228.34 L623.84,229.04 L625.34,229.74 L626.84,230.43 L628.35,231.13 L629.85,231.82 L631.36,232.51 L632.86,233.20 L634.36,233.89 L635.87,234.58 L637.37,235.27 L638.88,235.96 L640.38,236.64 L641.88,237.33 L643.39,238.01 L644.89,238.69 L646.40,239.37 L647.90,240.05 L649.40,240.73 L650.91,241.41 L652.41,242.09 L653.92,242.76 L655.42,243.44 L656.92,244.11 L658.43,244.79 L659.93,245.46 L661.44,246.13 L662.94,246.80 L664.44,247.47 L665.95,248.14 L667.45,248.81 L668.96,249.48 L670.46,250.15 L671.96,250.82 L673.47,251.48 L674.97,252.15 L676.48,252.81 L677.98,253.48 L679.48,254.14 L680.99,254.81 L682.49,255.47 L684.00,256.13 L685.50,256.79 L687.00,257.46 L688.51,258.12 L690.01,258.78 L691.52,259.44 L693.02,260.10 L694.52,260.76 L696.03,261.42 L697.53,262.08 L699.04,262.74 L700.54,263.40 L702.04,264.05 L703.55,264.71 L705.05,265.37 L706.56,266.03 L708.06,266.68 L709.56,267.34 L711.07,268.00 L712.57,268.65 L714.08,269.31 L715.58,269.97 L717.08,270.62 L718.59,271.28 L720.09,271.94 L721.60,272.59 L723.10,273.25" fill="none" stroke="#008000" stroke-width="5.66" stroke-dasharray="5.66 9.34" stroke-dashoffset="12.40"/>
<path d="M123.00,37.56 L124.50,37.56 L126.01,37.56 L127.51,37.56 L129.02,37.57 L130.52,37.57 L132.02,37.57 L133.53,37.57 L135.03,37.57 L136.54,37.57 L138.04,37.57 L139.54,37.57 L141.05,37.58 L142.55,37.58 L144.06,37.58 L145.56,37.58 L147.06,37.58 L148.57,37.58 L150.07,37.59 L151.58,37.59 L153.08,37.59 L154.58,37.59 L156.09,37.60 L157.59,37.60 L159.10,37.60 L160.60,37.60 L162.10,37.61 L163.61,37.61 L165.11,37.61 L166.62,37.62 L168.12,37.62 L169.62,37.63 L171.13,37.63 L172.63,37.64 L174.14,37.64 L175.64,37.65 L177.14,37.65 L178.65,37.66 L180.15,37.66 L181.66,37.67 L183.16,37.68 L184.66,37.69 L186.17,37.69 L187.67,37.70 L189.18,37.71 L190.68,37.72 L192.18,37.73 L193.69,37.74 L195.19,37.75 L196.70,37.76 L198.20,37.78 L199.70,37.79 L201.21,37.80 L202.71,37.82 L204.22,37.84 L205.72,37.85 L207.22,37.87 L208.73,37.89 L210.23,37.91 L211.74,37.93 L213.24,37.95 L214.74,37.98 L216.25,38.00 L217.75,38.03 L219.26,38.05 L220.76,38.08 L222.26,38.11 L223.77,38.15 L225.27,38.18 L226.78,38.22 L228.28,38.26 L229.78,38.30 L231.29,38.34 L232.79,38.39 L234.30,38.44 L235.80,38.49 L237.30,38.54 L238.81,38.60 L240.31,38.66 L241.82,38.72 L243.32,38.79 L244.82,38.86 L246.33,38.94 L247.83,39.02 L249.34,39.10 L250.84,39.19 L252.34,39.28 L253.85,39.38 L255.35,39.48 L256.86,39.59 L258.36,39.70 L259.86,39.82 L261.37,39.95 L262.87,40.08 L264.38,40.22 L265.88,40.37 L267.38,40.52 L268.89,40.68 L270.39,40.85 L271.90,41.03 L273.40,41.22 L274.91,41.42 L276.41,41.62 L277.91,41.84 L279.42,42.06 L280.92,42.30 L282.43,42.55 L283.93,42.81 L285.43,43.07 L286.94,43.36 L288.44,43.65 L289.95,43.96 L291.45,44.28 L292.95,44.61 L294.46,44.96 L295.96,45.32 L297.47,45.69 L298.97,46.08 L300.47,46.48 L301.98,46.90 L303.48,47.33 L304.99,47.78 L306.49,48.24 L307.99,48.72 L309.50,49.21 L311.00,49.72 L312.51,50.25 L314.01,50.79 L315.51,51.35 L317.02,51.92 L318.52,52.51 L320.03,53.11 L321.53,53.73 L323.03,54.37 L324.54,55.02 L326.04,55.68 L327.55,56.37 L329.05,57.06 L330.55,57.77 L332.06,58.49 L333.56,59.23 L335.07,59.98 L336.57,60.75 L338.07,61.52 L339.58,62.31 L341.08,63.11 L342.59,63.93 L344.09,64.75 L345.59,65.59 L347.10,66.44 L348.60,67.30 L350.11,68.16 L351.61,69.04 L353.11,69.93 L354.62,70.82 L356.12,71.73 L357.63,72.64 L359.13,73.56 L360.63,74.49 L362.14,75.42 L363.64,76.36 L365.15,77.31 L366.65,78.27 L368.15,79.23 L369.66,80.19 L371.16,81.16 L372.67,82.14 L374.17,83.11 L375.67,84.10 L377.18,85.09 L378.68,86.08 L380.19,87.07 L381.69,88.07 L383.19,89.07 L384.70,90.07 L386.20,91.08 L387.71,92.09 L389.21,93.09 L390.71,94.11 L392.22,95.12 L393.72,96.13 L395.23,97.15 L396.73,98.17 L398.23,99.18 L399.74,100.20 L401.24,101.22 L402.75,102.24 L404.25,103.26 L405.75,104.28 L407.26,105.30 L408.76,106.32 L410.27,107.34 L411.77,108.36 L413.27,109.38 L414.78,110.39 L416.28,111.41 L417.79,112.43 L419.29,113.44 L420.79,114.46 L422.30,115.47 L423.80,116.48 L425.31,117.49 L426.81,118.50 L428.31,119.51 L429.82,120.52 L431.32,121.52 L432.83,122.53 L434.33,123.53 L435.83,124.53 L437.34,125.53 L438.84,126.52 L440.35,127.51 L441.85,128.51 L443.35,129.50 L444.86,130.48 L446.36,131.47 L447.87,132.45 L449.37,133.43 L450.87,134.41 L452.38,135.39 L453.88,136.36 L455.39,137.33 L456.89,138.30 L458.39,139.27 L459.90,140.23 L461.40,141.19 L462.91,142.15 L464.41,143.11 L465.91,144.06 L467.42,145.01 L468.92,145.96 L470.43,146.90 L471.93,147.84 L473.43,148.78 L474.94,149.72 L476.44,150.65 L477.95,151.58 L479.45,152.51 L480.95,153.43 L482.46,154.36 L483.96,155.28 L485.47,156.19 L486.97,157.10 L488.47,158.01 L489.98,158.92 L491.48,159.82 L492.99,160.73 L494.49,161.62 L495.99,162.52 L497.50,163.41 L499.00,164.30 L500.51,165.19 L502.01,166.07 L503.51,166.95 L505.02,167.83 L506.52,168.70 L508.03,169.57 L509.53,170.44 L511.03,171.30 L512.54,172.17 L514.04,173.03 L515.55,173.88 L517.05,174.73 L518.55,175.59 L520.06,176.43 L521.56,177.28 L523.07,178.12 L524.57,178.96 L526.07,179.79 L527.58,180.63 L529.08,181.46 L530.59,182.29 L532.09,183.11 L533.59,183.93 L535.10,184.75 L536.60,185.57 L538.11,186.38 L539.61,187.19 L541.11,188.00 L542.62,188.81 L544.12,189.61 L545.63,190.41 L547.13,191.21 L548.63,192.00 L550.14,192.80 L551.64,193.59 L553.15,194.38 L554.65,195.16 L556.15,195.94 L557.66,196.72 L559.16,197.50 L560.67,198.28 L562.17,199.05 L563.67,199.82 L565.18,200.59 L566.68,201.36 L568.19,202.12 L569.69,202.88 L571.19,203.64 L572.70,204.40 L574.20,205.16 L575.71,205.91 L577.21,206.66 L578.72,207.41 L580.22,208.16 L581.72,208.90 L583.23,209.65 L584.73,210.39 L586.24,211.13 L587.74,211.86 L589.24,212.60 L590.75,213.33 L592.25,214.06 L593.76,214.79 L595.26,215.52 L596.76,216.25 L598.27,216.97 L599.77,217.69 L601.28,218.41 L602.78,219.13 L604.28,219.85 L605.79,220.57 L607.29,221.28 L608.80,221.99 L610.30,222.71 L611.80,223.42 L613.31,224.12 L614.81,224.83 L616.32,225.54 L617.82,226.24 L619.32,226.94 L620.83,227.64 L622.33,228.34 L623.84,229.04 L625.34,229.74 L626.84,230.43 L628.35,231.13 L629.85,231.82 L631.36,232.51 L632.86,233.20 L634.36,233.89 L635.87,234.58 L637.37,235.27 L638.88,235.96 L640.38,236.64 L641.88,237.33 L643.39,238.01 L644.89,238.69 L646.40,239.37 L647.90,240.05 L649.40,240.73 L650.91,241.41 L652.41,242.09 L653.92,242.76 L655.42,243.44 L656.92,244.11 L658.43,244.79 L659.93,245.46 L661.44,246.13 L662.94,246.80 L664.44,247.47 L665.95,248.14 L667.45,248.81 L668.96,249.48 L670.46,250.15 L671.96,250.82 L673.47,251.48 L674.97,252.15 L676.48,252.81 L677.98,253.48 L679.48,254.14 L680.99,254.81 L682.49,255.47 L684.00,256.13 L685.50,256.79 L687.00,257.46 L688.51,258.12 L690.01,258.78 L691.52,259.44 L693.02,260.10 L694.52,260.76 L696.03,261.42 L697.53,262.08 L699.04,262.74 L700.54,263.40 L702.04,264.05 L703.55,264.71 L705.05,265.37 L706.56,266.03 L708.06,266.68 L709.56,267.34 L711.07,268.00 L712.57,268.65 L714.08,269.31 L715.58,269.97 L717.08,270.62 L718.59,271.28 L720.09,271.94 L721.60,272.59 L723.10,273.25" fill="none" stroke="#008000" stroke-width="5.66" stroke-linejoin="round"/>
<circle cx="120.00" cy="114.30" r="8.50" fill="#008000"/>
<circle cx="187.01" cy="114.30" r="8.50" fill="#008000"/>
<circle cx="254.02" cy="114.40" r="8.50" fill="#008000"/>
<circle cx="321.03" cy="115.00" r="8.50" fill="#008000"/>
<circle cx="388.04" cy="119.00" r="8.50" fill="#008000"/>
<circle cx="455.06" cy="140.60" r="8.50" fill="#008000"/>
<circle cx="522.07" cy="177.60" r="8.50" fill="#008000"/>
<circle cx="589.08" cy="212.90" r="8.50" fill="#008000"/>
<circle cx="656.09" cy="243.60" r="8.50" fill="#008000"/>
<circle cx="723.10" cy="273.40" r="8.50" fill="#008000"/>
</g>
<g>
<g clip-path="url(#c0)"><text x="81.10" y="359.40" font-size="38.0">10</text></g>
<text class="mn" transform="translate(124.00,347.60) scale(1.200,1.000)" font-size="26.6">−</text>
<text x="142.90" y="345.3" font-size="26.6">5</text>
<g clip-path="url(#c1)"><text x="201.72" y="359.40" font-size="38.0">10</text></g>
<text class="mn" transform="translate(244.62,347.60) scale(1.200,1.000)" font-size="26.6">−</text>
<text x="263.52" y="345.3" font-size="26.6">4</text>
<g clip-path="url(#c2)"><text x="322.34" y="359.40" font-size="38.0">10</text></g>
<text class="mn" transform="translate(365.24,347.60) scale(1.200,1.000)" font-size="26.6">−</text>
<text x="384.14" y="345.3" font-size="26.6">3</text>
<g clip-path="url(#c3)"><text x="442.96" y="359.40" font-size="38.0">10</text></g>
<text class="mn" transform="translate(485.86,347.60) scale(1.200,1.000)" font-size="26.6">−</text>
<text x="504.76" y="345.3" font-size="26.6">2</text>
<g clip-path="url(#c4)"><text x="563.58" y="359.40" font-size="38.0">10</text></g>
<text class="mn" transform="translate(606.48,347.60) scale(1.200,1.000)" font-size="26.6">−</text>
<g clip-path="url(#c5)"><text x="625.38" y="345.30" font-size="26.6">1</text></g>
<g clip-path="url(#c6)"><text x="694.55" y="359.40" font-size="38.0">10</text></g>
<text x="736.85" y="345.3" font-size="26.6">0</text>
<g clip-path="url(#c7)"><text x="49.50" y="332.30" font-size="38.0">10</text></g>
<text x="91.80" y="318.20" font-size="26.6">0</text>
<g clip-path="url(#c8)"><text x="49.50" y="241.40" font-size="38.0">10</text></g>
<g clip-path="url(#c9)"><text x="91.80" y="227.30" font-size="26.6">1</text></g>
<g clip-path="url(#c10)"><text x="49.50" y="150.50" font-size="38.0">10</text></g>
<text x="91.80" y="136.40" font-size="26.6">2</text>
<g clip-path="url(#c11)"><text x="49.50" y="59.60" font-size="38.0">10</text></g>
<text x="91.80" y="45.50" font-size="26.6">3</text>
</g>
<g>
<line x1="539.5" y1="33.65" x2="598.4" y2="33.65" stroke="#ff0000" stroke-width="5.66"/>
<text class="mi" transform="translate(616.40,43.70) scale(1.170,1.000)" font-size="24.8">v</text>
<text class="" transform="translate(629.10,47.50) scale(0.950,1.000)" font-size="19.2">eff</text>
<text class="ms" x="657.2" y="47.80" font-size="36.8">&lt;</text>
<text class="" transform="translate(684.50,44.10) scale(0.970,1.000)" font-size="27.4">0</text>
<line x1="539.5" y1="71.10" x2="598.4" y2="71.10" stroke="#0000ff" stroke-width="5.66"/>
<text class="mi" transform="translate(616.40,81.10) scale(1.170,1.000)" font-size="24.8">v</text>
<text class="" transform="translate(629.10,84.90) scale(0.950,1.000)" font-size="19.2">eff</text>
<text class="eq" transform="translate(656.60,82.00) scale(0.970,0.660)" font-size="30.0">=</text>
<text class="" transform="translate(680.10,81.50) scale(0.970,1.000)" font-size="27.4">0</text>
<line x1="539.5" y1="108.60" x2="598.4" y2="108.60" stroke="#008000" stroke-width="5.66"/>
<text class="mi" transform="translate(616.40,118.50) scale(1.170,1.000)" font-size="24.8">v</text>
<text class="" transform="translate(629.10,122.30) scale(0.950,1.000)" font-size="19.2">eff</text>
<text class="ms" x="657.2" y="122.60" font-size="36.8">&gt;</text>
<text class="" transform="translate(684.50,118.90) scale(0.970,1.000)" font-size="27.4">0</text>
</g>
<!-- x label -->
<g>
<text class="mi" transform="translate(363.00,406.40) scale(0.970,1.000)" font-size="38.0">δ</text>
<text class="mi" transform="translate(380.60,406.40) scale(1.140,1.000)" font-size="34.5">α</text>
<text class="sl" transform="translate(404.60,415.80) scale(1.030,1.000)" font-size="57.0">/</text>
<text class="mi" transform="translate(422.60,406.40) scale(1.140,1.000)" font-size="34.5">α</text>
<text x="445.2" y="392.7" font-size="26.2">crit</text>
</g>
<!-- y label -->
<g transform="translate(28.2,318) rotate(-90)">
<text class="mi" transform="translate(0.60,0.00) scale(1.070,1.000)" font-size="40.0">λ</text>
<text x="29.9" y="0" font-size="37.5">[number of cells]</text>
</g>
</svg>
</body></html>
